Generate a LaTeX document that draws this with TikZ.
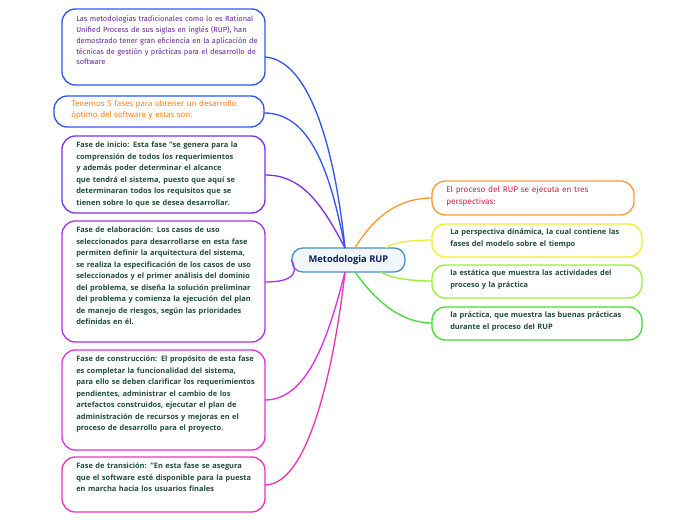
\documentclass[tikz,border=0pt]{standalone}
\usepackage{fontspec}
\setmainfont{Open Sans}
\newfontfamily\handf{Fira Sans}
\newcommand{\nohy}{\hyphenpenalty=10000\relax\exhyphenpenalty=10000\relax}
\begin{document}
\begin{tikzpicture}[x=0.75pt,y=-0.75pt]
\definecolor{bblue}{HTML}{3355EE}
\definecolor{bviol}{HTML}{7733EE}
\definecolor{bpurp}{HTML}{AA33EE}
\definecolor{bmag}{HTML}{DD33DD}
\definecolor{bpink}{HTML}{EE33BB}
\definecolor{borng}{HTML}{FF9933}
\definecolor{byell}{HTML}{EEEE33}
\definecolor{bygrn}{HTML}{99EE33}
\definecolor{bgrn}{HTML}{44DD33}
\definecolor{tgrn}{HTML}{1F4D3A}
\definecolor{tpurp}{HTML}{662299}
\definecolor{tred}{HTML}{CC2244}
\definecolor{cblue}{HTML}{4A90C8}
\tikzset{
 box/.style={draw,line width=1pt,rounded corners=10pt,inner xsep=0pt,inner ysep=0pt},
 txt/.style={align=left,anchor=north west,inner sep=0pt,font=\nohy\bfseries\fontsize{5.6}{8.6}\selectfont,text=tgrn},
 con/.style={line width=1pt}
}
\useasboundingbox (0,0) rectangle (696,520);
% boxes
\draw[box,bblue] (62,9) rectangle (265,85);
\node[txt,text=tpurp,font=\nohy\handf\fontsize{5.6}{8.2}\selectfont,text width=138pt] (t1) at (76,15) {Las metodologías tradicionales como lo es Rational Unified Process de sus siglas en inglés (RUP), han demostrado tener gran eficiencia en la aplicación de técnicas de gestión y prácticas para el desarrollo de software};
\draw[box,bblue] (54,96) rectangle (264,127);
\node[txt,text=orange!90!red,font=\nohy\fontsize{5.9}{8.6}\selectfont,text width=145pt] (t2) at (71,100) {Tenemos 5 fases para obtener un desarrollo óptimo del software y estas son:};
\draw[box,bviol] (62,136) rectangle (265,213);
\node[txt,text width=136pt] (t3) at (76,142) {Fase de inicio: Esta fase "se genera para la comprensión de todos los requerimientos y además poder determinar el alcance que tendrá el sistema, puesto que aquí se determinaran todos los requisitos que se tienen sobre lo que se desea desarrollar.};
\draw[box,bpurp] (62,221) rectangle (265,342);
\node[txt,text width=136pt] (t4) at (76,227) {Fase de elaboración: Los casos de uso seleccionados para desarrollarse en esta fase permiten definir la arquitectura del sistema, se realiza la especificación de los casos de uso seleccionados y el primer análisis del dominio del problema, se diseña la solución preliminar del problema y comienza la ejecución del plan de manejo de riesgos, según las prioridades definidas en él.};
\draw[box,bmag] (62,350) rectangle (265,450);
\node[txt,text width=136pt] (t5) at (76,356) {Fase de construcción: El propósito de esta fase es completar la funcionalidad del sistema, para ello se deben clarificar los requerimientos pendientes, administrar el cambio de los artefactos construidos, ejecutar el plan de administración de recursos y mejoras en el proceso de desarrollo para el proyecto.};
\draw[box,bpink] (62,457) rectangle (265,512);
\node[txt,text width=136pt] (t6) at (76,463) {Fase de transición: "En esta fase se asegura que el software esté disponible para la puesta en marcha hacia los usuarios finales};
% center
\node[draw=cblue,fill=cblue!8,line width=1pt,rounded corners=8pt,minimum width=84.75pt,minimum height=18pt,font=\bfseries\fontsize{7}{9}\selectfont,text=tgrn!60!blue!70!black] (c) at (348.5,260) {Metodologia RUP};
% right boxes
\draw[box,borng] (432,181) rectangle (634,215);
\node[txt,text=tred,font=\nohy\handf\fontsize{6.2}{9}\selectfont,text width=125pt] (r1) at (446,186) {El proceso del RUP se ejecuta en tres perspectivas:};
\draw[box,byell] (432,224) rectangle (642,257);
\node[txt,text width=130pt] (r2) at (450,229) {La perspectiva dinámica, la cual contiene las fases del modelo sobre el tiempo};
\draw[box,bygrn] (432,265) rectangle (642,298);
\node[txt,text width=130pt] (r3) at (450,270) {la estática que muestra las actividades del proceso y la práctica};
\draw[box,bgrn] (432,307) rectangle (642,340);
\node[txt,text width=130pt] (r4) at (450,312) {la práctica, que muestra las buenas prácticas durante el proceso del RUP};
% coordinates for connectors
\coordinate (a1) at (265,57);
\coordinate (a2) at (264,113);
\coordinate (a3) at (265,175);
\coordinate (a4) at (265,282);
\coordinate (a5) at (265,400);
\coordinate (a6) at (265,485);
\coordinate (b1) at (432,198);
\coordinate (b2) at (432,240);
\coordinate (b3) at (432,281);
\coordinate (b4) at (432,323);
\coordinate (ct) at (345,248);
\coordinate (cb) at (345,272);
\coordinate (cr) at (355,248);
\coordinate (crb) at (355,272);
\draw[con,bblue] (ct) .. controls (335,150) and (310,60) .. (a1);
\draw[con,bblue] (ct) .. controls (330,170) and (310,113) .. (a2);
\draw[con,bviol] (ct) .. controls (320,200) and (300,175) .. (a3);
\draw[con,bpurp] (c.west) .. controls (300,275) and (290,282) .. (a4);
\draw[con,bmag] (cb) .. controls (330,330) and (310,400) .. (a5);
\draw[con,bpink] (cb) .. controls (335,360) and (310,485) .. (a6);
\draw[con,borng] (cr) .. controls (375,215) and (400,198) .. (b1);
\draw[con,byell] (c.east) ++(-20,-12) .. controls (390,243) and (410,240) .. (b2);
\draw[con,bygrn] (c.east) ++(-25,12) .. controls (390,278) and (410,281) .. (b3);
\draw[con,bgrn] (crb) .. controls (375,300) and (400,323) .. (b4);
\end{tikzpicture}
\end{document}
